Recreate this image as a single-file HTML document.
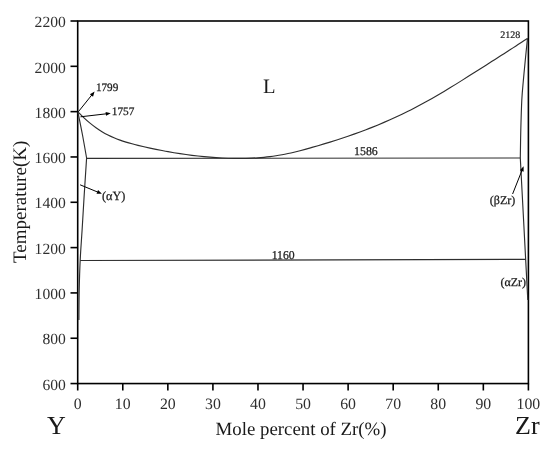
<!DOCTYPE html>
<html><head><meta charset="utf-8"><style>
html,body{margin:0;padding:0;background:#fff;}
svg{display:block;}
text{font-family:"Liberation Serif","Times New Roman",serif;fill:#1a1a1a;text-rendering:geometricPrecision;}
.yl{font-size:15.6px;text-anchor:end;fill:#2e2e2e;}
.xl{font-size:15.8px;text-anchor:middle;fill:#2e2e2e;}
.sm{font-size:12px;stroke:#1a1a1a;stroke-width:0.25px;}
.xs{font-size:10px;stroke:#1a1a1a;stroke-width:0.2px;}
.lL{font-size:20.5px;}
.big{font-size:26px;}
.tl{font-size:18.85px;}
.ax{stroke:#000;stroke-width:1.6;}
.ph{stroke:#2e2e2e;stroke-width:1.15;fill:none;}
.ar{stroke:#000;stroke-width:1;}
</style></head><body>
<svg width="550" height="449" viewBox="0 0 550 449">
<rect x="77.70" y="21.00" width="450.70" height="362.56" fill="none" stroke="#000" stroke-width="1.6"/>
<line x1="70.5" y1="383.56" x2="77.70" y2="383.56" class="ax"/>
<text x="65.8" y="389.76" class="yl">600</text>
<line x1="70.5" y1="338.24" x2="77.70" y2="338.24" class="ax"/>
<text x="65.8" y="344.44" class="yl">800</text>
<line x1="70.5" y1="292.92" x2="77.70" y2="292.92" class="ax"/>
<text x="65.8" y="299.12" class="yl">1000</text>
<line x1="70.5" y1="247.60" x2="77.70" y2="247.60" class="ax"/>
<text x="65.8" y="253.80" class="yl">1200</text>
<line x1="70.5" y1="202.28" x2="77.70" y2="202.28" class="ax"/>
<text x="65.8" y="208.48" class="yl">1400</text>
<line x1="70.5" y1="156.96" x2="77.70" y2="156.96" class="ax"/>
<text x="65.8" y="163.16" class="yl">1600</text>
<line x1="70.5" y1="111.64" x2="77.70" y2="111.64" class="ax"/>
<text x="65.8" y="117.84" class="yl">1800</text>
<line x1="70.5" y1="66.32" x2="77.70" y2="66.32" class="ax"/>
<text x="65.8" y="72.52" class="yl">2000</text>
<line x1="70.5" y1="21.00" x2="77.70" y2="21.00" class="ax"/>
<text x="65.8" y="27.20" class="yl">2200</text>
<line x1="77.70" y1="383.56" x2="77.70" y2="390.5" class="ax"/>
<text x="77.70" y="408.6" class="xl">0</text>
<line x1="122.77" y1="383.56" x2="122.77" y2="390.5" class="ax"/>
<text x="122.77" y="408.6" class="xl">10</text>
<line x1="167.84" y1="383.56" x2="167.84" y2="390.5" class="ax"/>
<text x="167.84" y="408.6" class="xl">20</text>
<line x1="212.91" y1="383.56" x2="212.91" y2="390.5" class="ax"/>
<text x="212.91" y="408.6" class="xl">30</text>
<line x1="257.98" y1="383.56" x2="257.98" y2="390.5" class="ax"/>
<text x="257.98" y="408.6" class="xl">40</text>
<line x1="303.05" y1="383.56" x2="303.05" y2="390.5" class="ax"/>
<text x="303.05" y="408.6" class="xl">50</text>
<line x1="348.12" y1="383.56" x2="348.12" y2="390.5" class="ax"/>
<text x="348.12" y="408.6" class="xl">60</text>
<line x1="393.19" y1="383.56" x2="393.19" y2="390.5" class="ax"/>
<text x="393.19" y="408.6" class="xl">70</text>
<line x1="438.26" y1="383.56" x2="438.26" y2="390.5" class="ax"/>
<text x="438.26" y="408.6" class="xl">80</text>
<line x1="483.33" y1="383.56" x2="483.33" y2="390.5" class="ax"/>
<text x="483.33" y="408.6" class="xl">90</text>
<line x1="528.40" y1="383.56" x2="528.40" y2="390.5" class="ax"/>
<text x="528.40" y="408.6" class="xl">100</text>
<line x1="86.6" y1="158.35" x2="520.3" y2="158.0" class="ph"/>
<line x1="80.2" y1="260.5" x2="525.6" y2="259.4" class="ph"/>
<path d="M78.00,111.81 C79.00,112.82 82.00,116.00 84.00,117.89 C86.00,119.79 88.00,121.54 90.00,123.18 C92.00,124.83 94.00,126.34 96.00,127.75 C98.00,129.16 100.00,130.45 102.00,131.65 C104.00,132.85 106.00,133.94 108.00,134.96 C110.00,135.98 112.00,136.89 114.00,137.75 C116.00,138.60 118.00,139.37 120.00,140.09 C122.00,140.81 124.00,141.46 126.00,142.08 C128.00,142.69 130.00,143.25 132.00,143.79 C134.00,144.33 136.00,144.83 138.00,145.32 C140.00,145.81 142.00,146.28 144.00,146.74 C146.00,147.20 148.00,147.65 150.00,148.08 C152.00,148.52 154.00,148.94 156.00,149.35 C158.00,149.76 160.00,150.16 162.00,150.55 C164.00,150.93 166.00,151.31 168.00,151.66 C170.00,152.02 172.00,152.37 174.00,152.70 C176.00,153.03 178.00,153.35 180.00,153.66 C182.00,153.96 184.00,154.25 186.00,154.53 C188.00,154.81 190.00,155.07 192.00,155.32 C194.00,155.57 196.00,155.81 198.00,156.03 C200.00,156.25 202.00,156.45 204.00,156.65 C206.00,156.84 208.00,157.01 210.00,157.18 C212.00,157.34 214.00,157.49 216.00,157.62 C218.00,157.75 220.00,157.87 222.00,157.97 C224.00,158.07 226.00,158.15 228.00,158.22 C230.00,158.29 232.00,158.35 234.00,158.38 C236.00,158.42 238.00,158.43 240.00,158.43 C242.00,158.43 244.00,158.40 246.00,158.36 C248.00,158.31 250.00,158.25 252.00,158.15 C254.00,158.06 256.00,157.95 258.00,157.81 C260.00,157.67 262.00,157.50 264.00,157.31 C266.00,157.11 268.00,156.89 270.00,156.64 C272.00,156.39 274.00,156.11 276.00,155.80 C278.00,155.49 280.00,155.14 282.00,154.77 C284.00,154.40 286.00,153.99 288.00,153.56 C290.00,153.13 292.00,152.67 294.00,152.19 C296.00,151.71 298.00,151.21 300.00,150.69 C302.00,150.17 304.00,149.64 306.00,149.09 C308.00,148.55 310.00,147.98 312.00,147.42 C314.00,146.85 316.00,146.28 318.00,145.69 C320.00,145.11 322.00,144.52 324.00,143.92 C326.00,143.32 328.00,142.72 330.00,142.10 C332.00,141.48 334.00,140.85 336.00,140.22 C338.00,139.58 340.00,138.93 342.00,138.27 C344.00,137.61 346.00,136.93 348.00,136.25 C350.00,135.56 352.00,134.87 354.00,134.16 C356.00,133.45 358.00,132.72 360.00,131.98 C362.00,131.24 364.00,130.49 366.00,129.72 C368.00,128.96 370.00,128.17 372.00,127.37 C374.00,126.57 376.00,125.76 378.00,124.93 C380.00,124.10 382.00,123.25 384.00,122.39 C386.00,121.52 388.00,120.64 390.00,119.75 C392.00,118.85 394.00,117.94 396.00,117.01 C398.00,116.08 400.00,115.13 402.00,114.17 C404.00,113.21 406.00,112.23 408.00,111.23 C410.00,110.24 412.00,109.22 414.00,108.19 C416.00,107.16 418.00,106.11 420.00,105.05 C422.00,103.98 424.00,102.90 426.00,101.80 C428.00,100.69 430.00,99.58 432.00,98.44 C434.00,97.30 436.00,96.15 438.00,94.98 C440.00,93.81 442.00,92.63 444.00,91.43 C446.00,90.24 448.00,89.03 450.00,87.81 C452.00,86.59 454.00,85.36 456.00,84.12 C458.00,82.88 460.00,81.64 462.00,80.38 C464.00,79.13 466.00,77.87 468.00,76.60 C470.00,75.34 472.00,74.07 474.00,72.80 C476.00,71.53 478.00,70.26 480.00,68.98 C482.00,67.71 484.00,66.44 486.00,65.16 C488.00,63.89 490.00,62.61 492.00,61.34 C494.00,60.06 496.00,58.78 498.00,57.50 C500.00,56.22 502.00,54.94 504.00,53.66 C506.00,52.37 508.00,51.09 510.00,49.80 C512.00,48.51 514.00,47.21 516.00,45.92 C518.00,44.62 520.10,43.25 522.00,42.01 C523.90,40.77 526.50,39.06 527.40,38.47" class="ph"/>
<path d="M527.50,38.30 C527.13,41.92 525.98,53.05 525.30,60.00 C524.62,66.95 523.98,73.33 523.40,80.00 C522.82,86.67 522.23,91.67 521.80,100.00 C521.37,108.33 521.05,120.33 520.80,130.00 C520.55,139.67 520.38,153.33 520.30,158.00" class="ph"/>
<path d="M520.30,158.00 C521.55,181.67 526.55,276.33 527.80,300.00" class="ph"/>
<path d="M78.00,112.50 C78.75,116.25 81.07,127.42 82.50,135.00 C83.93,142.58 85.92,154.17 86.60,158.00" class="ph"/>
<path d="M86.60,158.00 C86.20,164.17 84.95,183.00 84.20,195.00 C83.45,207.00 82.77,219.17 82.10,230.00 C81.43,240.83 80.68,250.00 80.20,260.00 C79.72,270.00 79.42,280.00 79.20,290.00 C78.98,300.00 78.95,315.00 78.90,320.00" class="ph"/>
<line x1="78.30" y1="111.80" x2="92.10" y2="94.62" class="ar"/><polygon points="94.60,91.50 93.03,96.65 89.91,94.15" fill="#000"/>
<line x1="80.50" y1="116.80" x2="106.83" y2="113.76" class="ar"/><polygon points="110.80,113.30 106.06,115.86 105.60,111.89" fill="#000"/>
<line x1="80.10" y1="184.80" x2="98.20" y2="192.27" class="ar"/><polygon points="101.90,193.80 96.52,193.74 98.04,190.04" fill="#000"/>
<line x1="512.60" y1="194.00" x2="522.12" y2="170.02" class="ar"/><polygon points="523.60,166.30 523.61,171.69 519.90,170.21" fill="#000"/>
<text x="95.9" y="91.1" class="sm" style="font-size:11.4px" textLength="22.45" lengthAdjust="spacingAndGlyphs">1799</text>
<text x="111.75" y="115.25" class="sm" style="font-size:11.4px" textLength="22.7" lengthAdjust="spacingAndGlyphs">1757</text>
<text x="102.0" y="199.6" class="sm" style="font-size:12.5px" textLength="23.4" lengthAdjust="spacingAndGlyphs">(αY)</text>
<text x="354.1" y="155.3" class="sm" textLength="23.7" lengthAdjust="spacingAndGlyphs">1586</text>
<text x="271.7" y="258.7" class="sm" textLength="23.0" lengthAdjust="spacingAndGlyphs">1160</text>
<text x="489.8" y="203.7" class="sm">(βZr)</text>
<text x="500.4" y="285.7" class="sm">(αZr)</text>
<text x="500.3" y="38" class="xs">2128</text>
<text x="263" y="92.7" class="lL">L</text>
<text x="47" y="434.1" class="big">Y</text>
<text x="515" y="434" class="big">Zr</text>
<text x="215.5" y="434.7" class="tl">Mole percent of Zr(%)</text>
<text transform="translate(25.8,263) rotate(-90)" class="tl" style="font-size:19.05px">Temperature(K)</text>
</svg>
</body></html>
